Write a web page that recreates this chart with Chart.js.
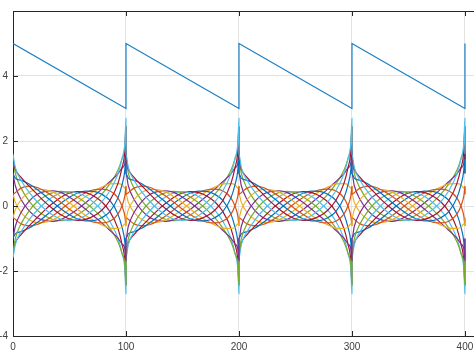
<!DOCTYPE html>
<html>
<head>
<meta charset="utf-8">
<script src="https://cdn.jsdelivr.net/npm/chart.js"></script>
<style>
    body { margin: 0; background: #fff; }
    canvas { display: block; }
</style>
</head>
<body>
<canvas id="myChart" width="474" height="353"></canvas>
<script>
// 刻度
var xTicks = [0, 100, 200, 300, 400];
var yTicks = [-4, -2, 0, 2, 4];

// 鋸齒波 (5 -> 3, 每 100 重置)
var sawX = [0, 100, 100, 200, 200, 300, 300, 400, 400];
var sawY = [5, 3, 5, 3, 5, 3, 5, 3, 5];

// 每個週期的起點, 四個週期圖形相同
var periodStarts = [0, 100, 200, 300];

// 一個週期內的取樣位置
var phaseX = [0, 2, 7.14, 14.29, 21.43, 28.57, 35.71, 42.86, 50, 57.14, 64.29, 71.43, 78.57, 85.71, 92.86, 96.5, 99, 100];

// 各條曲線在一個週期內的讀值
var curve0 = [1.6, 1.19, 0.79, 0.42, 0.13, -0.11, -0.29, -0.41, -0.44, -0.4, -0.29, -0.11, 0.13, 0.47, 0.99, 1.46, 1.95, 2.7];
var curve1 = [1.44, 1.14, 0.88, 0.61, 0.36, 0.11, -0.1, -0.28, -0.4, -0.44, -0.41, -0.31, -0.13, 0.17, 0.69, 1.18, 1.70, 2.43];
var curve2 = [1.0, 0.86, 0.79, 0.68, 0.51, 0.31, 0.1, -0.1, -0.27, -0.4, -0.46, -0.45, -0.36, -0.17, 0.25, 0.66, 1.12, 1.68];
var curve3 = [0.36, 0.41, 0.55, 0.61, 0.57, 0.45, 0.29, 0.1, -0.1, -0.27, -0.41, -0.5, -0.52, -0.47, -0.25, 0.01, 0.31, 0.60];
var curve4 = [-0.36, -0.12, 0.2, 0.42, 0.51, 0.5, 0.42, 0.28, 0.1, -0.1, -0.29, -0.45, -0.58, -0.68, -0.69, -0.65, -0.55, -0.60];
var curve5 = [-1.0, -0.63, -0.2, 0.15, 0.36, 0.45, 0.47, 0.41, 0.27, 0.1, -0.1, -0.31, -0.52, -0.75, -0.99, -1.17, -1.31, -1.68];
var curve6 = [-1.44, -1.01, -0.55, -0.15, 0.13, 0.31, 0.42, 0.45, 0.4, 0.27, 0.1, -0.11, -0.36, -0.68, -1.1, -1.46, -1.81, -2.43];
var curve7 = [-1.6, -1.19, -0.79, -0.42, -0.13, 0.11, 0.29, 0.41, 0.44, 0.4, 0.29, 0.11, -0.13, -0.47, -0.99, -1.46, -1.95, -2.7];
var curve8 = [-1.44, -1.14, -0.88, -0.61, -0.36, -0.11, 0.1, 0.28, 0.4, 0.44, 0.41, 0.31, 0.13, -0.17, -0.69, -1.18, -1.70, -2.43];
var curve9 = [-1.0, -0.86, -0.79, -0.68, -0.51, -0.31, -0.1, 0.1, 0.27, 0.4, 0.46, 0.45, 0.36, 0.17, -0.25, -0.66, -1.12, -1.68];
var curve10 = [-0.36, -0.41, -0.55, -0.61, -0.57, -0.45, -0.29, -0.1, 0.1, 0.27, 0.41, 0.5, 0.52, 0.47, 0.25, -0.01, -0.31, -0.60];
var curve11 = [0.36, 0.12, -0.2, -0.42, -0.51, -0.5, -0.42, -0.28, -0.1, 0.1, 0.29, 0.45, 0.58, 0.68, 0.69, 0.65, 0.55, 0.60];
var curve12 = [1.0, 0.63, 0.2, -0.15, -0.36, -0.45, -0.47, -0.41, -0.27, -0.1, 0.1, 0.31, 0.52, 0.75, 0.99, 1.17, 1.31, 1.68];
var curve13 = [1.44, 1.01, 0.55, 0.15, -0.13, -0.31, -0.42, -0.45, -0.4, -0.27, -0.1, 0.11, 0.36, 0.68, 1.1, 1.46, 1.81, 2.43];

var curves = [curve0, curve1, curve2, curve3, curve4, curve5, curve6,
              curve7, curve8, curve9, curve10, curve11, curve12, curve13];

// MATLAB 預設顏色
var lineColors = ['#0072BD', '#D95319', '#EDB120', '#7E2F8E', '#77AC30', '#4DBEEE', '#A2142F'];

var datasets = [];

curves.forEach((vals, k) => {
    var pts = [];
    periodStarts.forEach(p => {
        phaseX.forEach((x, i) => pts.push({ x: p + x, y: vals[i] }));
    });
    pts.push({ x: 400, y: vals[0] }); // 最後一次跳回起點
    datasets.push({
        data: pts,
        borderColor: lineColors[(k + 5) % 7],
        borderWidth: 1.2,
        cubicInterpolationMode: 'monotone',
        pointRadius: 0,
        fill: false
    });
});

datasets.push({
    data: sawX.map((x, i) => ({ x: x, y: sawY[i] })),
    borderColor: '#1a7fc4',
    borderWidth: 1.2,
    tension: 0,
    pointRadius: 0,
    fill: false
});

// 內側刻度線 + 上框線
var innerTicks = {
    id: 'innerTicks',
    afterDraw: function (chart) {
        var ctx = chart.ctx, a = chart.chartArea;
        var xs = chart.scales.x, ys = chart.scales.y;
        ctx.save();
        ctx.strokeStyle = '#262626';
        ctx.lineWidth = 1;
        ctx.beginPath();
        ctx.moveTo(a.left, a.top + 0.5);
        ctx.lineTo(a.right, a.top + 0.5);
        xTicks.forEach(v => {
            var px = Math.round(xs.getPixelForValue(v)) + 0.5;
            ctx.moveTo(px, a.bottom);
            ctx.lineTo(px, a.bottom - 5);
            ctx.moveTo(px, a.top);
            ctx.lineTo(px, a.top + 5);
        });
        yTicks.forEach(v => {
            var py = Math.round(ys.getPixelForValue(v)) + 0.5;
            ctx.moveTo(a.left, py);
            ctx.lineTo(a.left + 5, py);
        });
        ctx.stroke();
        ctx.restore();
    }
};

var tickFont = { family: '"Liberation Sans", Arial, sans-serif', size: 10 };

var ctx = document.getElementById('myChart').getContext('2d');
var myChart = new Chart(ctx, {
    type: 'line',
    data: { datasets: datasets },
    options: {
        responsive: false,
        animation: false,
        layout: { padding: { top: 5, right: 0, left: 0, bottom: 0 } },
        plugins: {
            legend: { display: false },
            tooltip: { enabled: false }
        },
        scales: {
            x: {
                type: 'linear',
                min: 0,
                max: 408,
                afterBuildTicks: s => { s.ticks = xTicks.map(v => ({ value: v })); },
                afterFit: s => { s.height = 17; s.paddingLeft = 0; s.paddingRight = 0; },
                grid: { color: '#e3e3e3', drawTicks: false },
                border: { color: '#262626' },
                ticks: { font: tickFont, color: '#404040', padding: 5, maxRotation: 0, autoSkip: false }
            },
            y: {
                type: 'linear',
                min: -4,
                max: 6,
                afterBuildTicks: s => { s.ticks = yTicks.map(v => ({ value: v })); },
                afterFit: s => { s.width = 13; },
                grid: { color: '#e3e3e3', drawTicks: false },
                border: { color: '#262626' },
                ticks: { font: tickFont, color: '#404040', padding: 5 }
            }
        }
    },
    plugins: [innerTicks]
});
</script>
</body>
</html>
